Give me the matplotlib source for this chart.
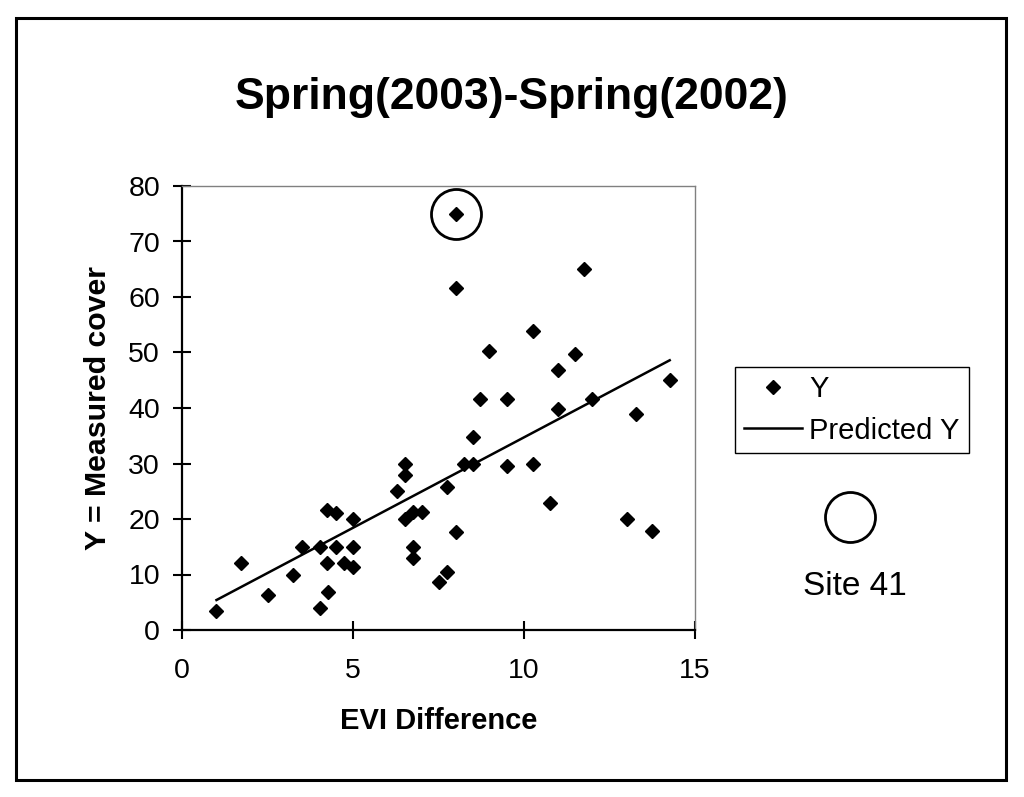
import matplotlib
matplotlib.use("Agg")
import matplotlib.pyplot as plt
from matplotlib.lines import Line2D
from matplotlib.patches import Rectangle

# ---- data ----
evi_diff = [1.0, 1.72, 2.5, 3.25, 3.5, 4.03, 4.03, 4.24, 4.51, 4.24, 4.27, 4.51, 4.73,
            5.0, 5.0, 5.0, 6.27, 6.51, 6.51, 6.51, 6.75, 7.02, 6.75, 6.75, 7.5, 7.73,
            7.73, 8.0, 8.0, 11.75, 10.25, 8.98, 11.5, 10.98, 14.26, 8.72, 9.5, 12.0,
            10.98, 13.27, 8.51, 8.25, 8.51, 9.5, 10.25, 10.77, 8.0, 13.0, 13.75]
measured_cover = [3.4, 12.0, 6.3, 9.9, 15.0, 15.0, 4.0, 21.6, 21.0, 12.0, 6.9, 15.0, 12.0,
                  20.0, 15.0, 11.4, 25.1, 30.0, 27.9, 20.0, 21.2, 21.2, 15.0, 13.0, 8.6, 10.4,
                  25.8, 74.9, 61.6, 65.0, 53.8, 50.3, 49.8, 46.8, 45.0, 41.7, 41.7, 41.7,
                  39.9, 38.9, 34.8, 29.9, 29.9, 29.6, 29.9, 22.9, 17.6, 20.0, 17.8]
pred_x = [1.0, 14.26]
pred_y = [5.4, 48.6]
site41_x = [8.0]
site41_y = [74.9]
x_ticks = [0, 5, 10, 15]
y_ticks = [0, 10, 20, 30, 40, 50, 60, 70, 80]

plt.rcParams['font.family'] = ['Liberation Sans', 'DejaVu Sans']

W, H = 1024, 797
fig = plt.figure(figsize=(W / 100, H / 100), dpi=100)
fig.patch.set_facecolor('white')

# outer chart border
fig.add_artist(Rectangle((16 / W, 1 - 780 / H), (1006 - 16) / W, (780 - 18) / H,
                         transform=fig.transFigure, fill=False, edgecolor='black',
                         linewidth=2.2))

ax = fig.add_axes([182.3 / W, 1 - 630 / H, (695 - 182.3) / W, (630 - 186) / H])
ax.set_xlim(0, 15)
ax.set_ylim(0, 80)
ax.set_xticks(x_ticks)
ax.set_yticks(y_ticks)

pts, = ax.plot(evi_diff, measured_cover, linestyle='none', marker='D', markersize=7.5,
               color='black', label='Y', clip_on=False)
line, = ax.plot(pred_x, pred_y, color='black', linewidth=1.8, label='Predicted Y')
ax.plot(site41_x, site41_y, linestyle='none', marker='o', markersize=36,
        markerfacecolor='none', markeredgecolor='black', markeredgewidth=2, clip_on=False)

for s in ['left', 'bottom']:
    ax.spines[s].set_linewidth(1.6)
    ax.spines[s].set_color('black')
for s in ['top', 'right']:
    ax.spines[s].set_linewidth(1.0)
    ax.spines[s].set_color('#808080')

ax.tick_params(axis='both', direction='inout', length=13, width=1.5, labelsize=20.5,
               color='black')
ax.tick_params(axis='y', pad=9.5)
ax.tick_params(axis='x', pad=14)

ax.set_xlabel('EVI Difference', fontsize=21, fontweight='bold', labelpad=16)
ax.set_ylabel('Y = Measured cover', fontsize=21.8, fontweight='bold', labelpad=12)

fig.text(512 / W, 1 - 97 / H, 'Spring(2003)-Spring(2002)', fontsize=32,
         fontweight='bold', ha='center', va='center')

leg = fig.legend(handles=[pts, line], loc='upper left',
                 bbox_to_anchor=(735 / W, 1 - 366.7 / H), borderaxespad=0,
                 fontsize=21, frameon=True, fancybox=False, framealpha=1,
                 edgecolor='black', handlelength=2.0, handletextpad=0.25,
                 borderpad=0.3, labelspacing=0.45, markerscale=0.95)
leg.get_frame().set_linewidth(1.0)

# site 41 key
fig.add_artist(Line2D([850 / W], [1 - 516.7 / H], marker='o', markersize=36,
                      markerfacecolor='none', markeredgecolor='black',
                      markeredgewidth=2, transform=fig.transFigure))
fig.text(855 / W, 1 - 586.7 / H, 'Site 41', fontsize=24, ha='center', va='center')

fig.savefig('out.png', dpi=100, facecolor='white')
